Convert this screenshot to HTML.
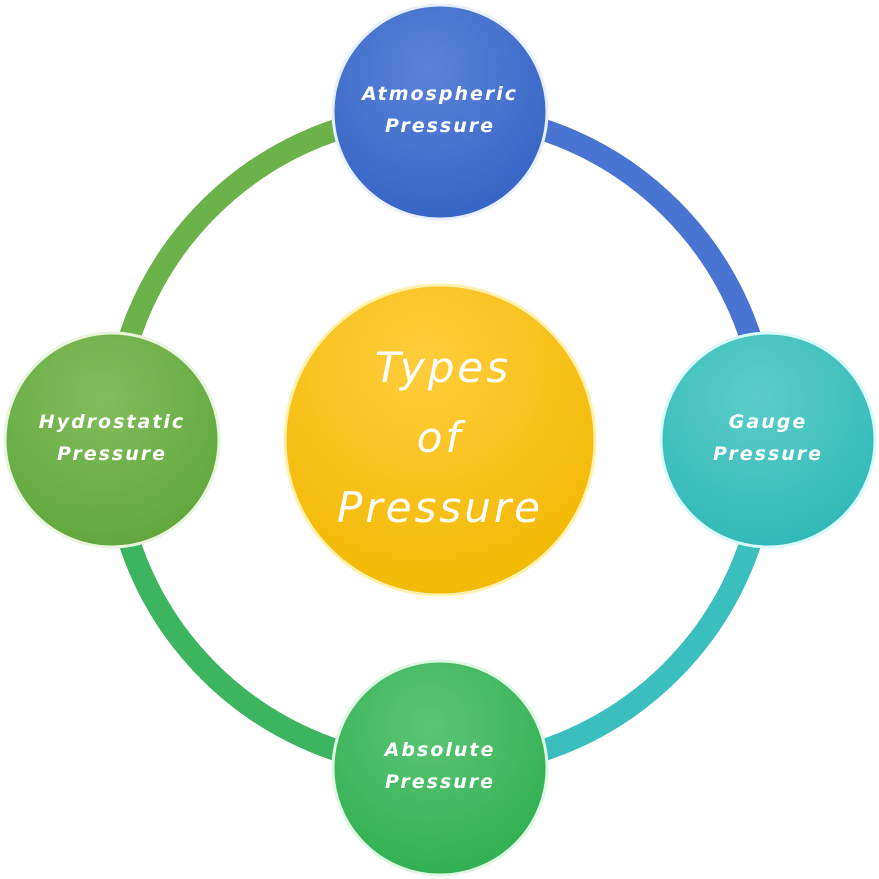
<!DOCTYPE html>
<html><head><style>
html,body{margin:0;padding:0;background:#fff;}
svg{display:block;}
text{font-family:"DejaVu Sans","Liberation Sans",sans-serif;font-style:italic;fill:#fff;text-anchor:middle;}
</style></head><body>
<svg width="879" height="879" viewBox="0 0 879 879" xmlns="http://www.w3.org/2000/svg">
<defs>
<radialGradient id="gb" cx="45%" cy="30%" r="75%"><stop offset="0" stop-color="#5a83d8"/><stop offset="1" stop-color="#3563c4"/></radialGradient>
<radialGradient id="gt" cx="45%" cy="30%" r="75%"><stop offset="0" stop-color="#5ccdc9"/><stop offset="1" stop-color="#2fb8b6"/></radialGradient>
<radialGradient id="gg" cx="45%" cy="30%" r="75%"><stop offset="0" stop-color="#5cc575"/><stop offset="1" stop-color="#2fae50"/></radialGradient>
<radialGradient id="gl" cx="45%" cy="30%" r="75%"><stop offset="0" stop-color="#82bd5c"/><stop offset="1" stop-color="#5fa63c"/></radialGradient>
<radialGradient id="gy" cx="45%" cy="25%" r="80%"><stop offset="0" stop-color="#ffcd3c"/><stop offset="1" stop-color="#f2b800"/></radialGradient>
</defs>
<g fill="none" stroke-width="22">
<path d="M440 113 A327 327 0 0 1 767 440" stroke="#4a74d2"/>
<path d="M767 440 A327 327 0 0 1 440 767" stroke="#3bbfbe"/>
<path d="M440 767 A327 327 0 0 1 113 440" stroke="#3cb460"/>
<path d="M113 440 A327 327 0 0 1 440 113" stroke="#6cb24a"/>
</g>
<g stroke="#e8f0ff" stroke-width="3">
<circle cx="440" cy="112" r="107" fill="url(#gb)"/>
<circle cx="768" cy="440" r="107" fill="url(#gt)" stroke="#d8fbfa"/>
<circle cx="440" cy="768" r="107" fill="url(#gg)" stroke="#dff7e5"/>
<circle cx="112" cy="440" r="107" fill="url(#gl)" stroke="#e8f5dc"/>
<circle cx="440" cy="440" r="155" fill="url(#gy)" stroke="#fff2b0"/>
</g>
<g font-size="19" letter-spacing="2" font-weight="bold">
<text x="440" y="100">Atmospheric</text><text x="440" y="132">Pressure</text>
<text x="768" y="428">Gauge</text><text x="768" y="460">Pressure</text>
<text x="440" y="756">Absolute</text><text x="440" y="788">Pressure</text>
<text x="112" y="428">Hydrostatic</text><text x="112" y="460">Pressure</text>
</g>
<g font-size="42" letter-spacing="3">
<text x="443" y="382">Types</text><text x="440" y="452">of</text><text x="440" y="522">Pressure</text>
</g>
</svg>
</body></html>
